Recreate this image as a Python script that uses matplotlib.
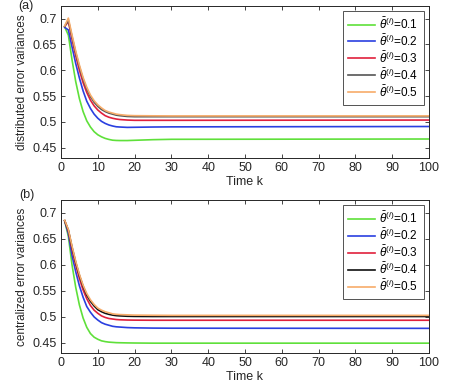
import matplotlib
matplotlib.use("Agg")
import matplotlib.pyplot as plt

plt.rcParams['font.family'] = ['Liberation Sans', 'DejaVu Sans']
plt.rcParams['mathtext.fontset'] = 'custom'
plt.rcParams['mathtext.rm'] = 'Liberation Sans'
plt.rcParams['mathtext.it'] = 'Liberation Sans:italic'

k = [1, 2, 3, 4, 5, 6, 7, 8, 9, 10, 11, 12, 13, 14, 15, 16, 18, 20, 25, 30, 100]

labels = ["0.1", "0.2", "0.3", "0.4", "0.5"]

# (a) distributed error variances
dist_01 = [0.684, 0.668, 0.620, 0.578, 0.545, 0.520, 0.502, 0.490, 0.481, 0.475, 0.471,
           0.468, 0.466, 0.4645, 0.464, 0.4638, 0.4638, 0.4643, 0.4655, 0.4662, 0.4668]
dist_02 = [0.683, 0.678, 0.645, 0.613, 0.585, 0.560, 0.540, 0.526, 0.515, 0.507, 0.501,
           0.497, 0.494, 0.492, 0.4905, 0.490, 0.4893, 0.4895, 0.4900, 0.4903, 0.4910]
dist_03 = [0.685, 0.694, 0.660, 0.628, 0.600, 0.576, 0.557, 0.542, 0.531, 0.523, 0.517,
           0.512, 0.509, 0.507, 0.5055, 0.5045, 0.5035, 0.5030, 0.5030, 0.5030, 0.5035]
dist_04 = [0.685, 0.697, 0.665, 0.634, 0.607, 0.583, 0.564, 0.549, 0.538, 0.530, 0.524,
           0.520, 0.517, 0.515, 0.513, 0.512, 0.5105, 0.5100, 0.5100, 0.5100, 0.5100]
dist_05 = [0.686, 0.701, 0.668, 0.637, 0.610, 0.586, 0.567, 0.552, 0.541, 0.533, 0.527,
           0.522, 0.519, 0.517, 0.515, 0.514, 0.5125, 0.5120, 0.5117, 0.5115, 0.5115]

# (b) centralized error variances
cent_01 = [0.685, 0.655, 0.600, 0.557, 0.523, 0.498, 0.480, 0.468, 0.461, 0.457, 0.454,
           0.4525, 0.4515, 0.451, 0.4505, 0.4503, 0.4500, 0.4498, 0.4495, 0.4495, 0.4495]
cent_02 = [0.685, 0.660, 0.618, 0.587, 0.560, 0.538, 0.520, 0.509, 0.500, 0.494, 0.489,
           0.486, 0.484, 0.482, 0.481, 0.4805, 0.4795, 0.4790, 0.4785, 0.4783, 0.4780]
cent_03 = [0.685, 0.665, 0.630, 0.600, 0.574, 0.552, 0.535, 0.522, 0.513, 0.507, 0.502,
           0.499, 0.497, 0.496, 0.495, 0.4945, 0.4940, 0.4938, 0.4936, 0.4936, 0.4936]
cent_04 = [0.685, 0.667, 0.634, 0.605, 0.580, 0.559, 0.542, 0.530, 0.521, 0.514, 0.510,
           0.507, 0.505, 0.5035, 0.5025, 0.502, 0.5013, 0.5010, 0.5008, 0.5008, 0.5008]
cent_05 = [0.686, 0.668, 0.636, 0.607, 0.582, 0.561, 0.545, 0.533, 0.524, 0.517, 0.513,
           0.510, 0.508, 0.506, 0.505, 0.5045, 0.5040, 0.5035, 0.5032, 0.5030, 0.5030]

xticks = [0, 10, 20, 30, 40, 50, 60, 70, 80, 90, 100]
yticks = [0.45, 0.5, 0.55, 0.6, 0.65, 0.7]
ytick_labels = ["0.45", "0.5", "0.55", "0.6", "0.65", "0.7"]

colors_a = ['#5fe03a', '#2a3fe0', '#e0203c', '#555555', '#f7ac6a']
colors_b = ['#5fe03a', '#2a3fe0', '#e0203c', '#111111', '#f7ac6a']

W, H = 474, 389
fig = plt.figure(figsize=(W / 100, H / 100), dpi=100)
axA = fig.add_axes([61 / W, 1 - 158 / H, (429 - 61) / W, (158 - 5.7) / H])
axB = fig.add_axes([61 / W, 1 - 353.3 / H, (429 - 61) / W, (353.3 - 200) / H])

def draw(ax, series, colors, ylabel):
    for s, c, lab in zip(series, colors, labels):
        ax.plot(k, s, color=c, lw=1.2, label=r'$\bar{\theta}^{(i)}$=' + lab)
    ax.set_xlim(0, 100)
    ax.set_ylim(0.43, 0.725)
    ax.set_xticks(xticks)
    ax.set_yticks(yticks)
    ax.set_yticklabels(ytick_labels)
    ax.tick_params(direction='in', top=True, right=True, labelsize=9,
                   length=3, width=0.6, colors='#262626', pad=3)
    for sp in ax.spines.values():
        sp.set_color('#262626')
        sp.set_linewidth(0.7)
    ax.set_xlabel('Time k', fontsize=9, color='#262626', labelpad=1)
    ax.set_ylabel(ylabel, fontsize=8.5, color='#262626')
    ax.yaxis.set_label_coords((28 - 61) / 368, 0.5)
    leg = ax.legend(loc='upper right', fontsize=8.5, handlelength=2.3, frameon=True,
                    fancybox=False, borderaxespad=0.45, labelspacing=0.14,
                    handletextpad=0.35, borderpad=0.45)
    leg.get_frame().set_edgecolor('#262626')
    leg.get_frame().set_linewidth(0.7)

draw(axA, [dist_01, dist_02, dist_03, dist_04, dist_05], colors_a, 'distributed error variances')
draw(axB, [cent_01, cent_02, cent_03, cent_04, cent_05], colors_b, 'centralized error variances')

fig.text(26 / W, 1 - 6 / H, '(a)', fontsize=9, ha='center', va='center', color='#262626')
fig.text(27 / W, 1 - 195 / H, '(b)', fontsize=9, ha='center', va='center', color='#262626')

fig.savefig('out.png', dpi=100)
